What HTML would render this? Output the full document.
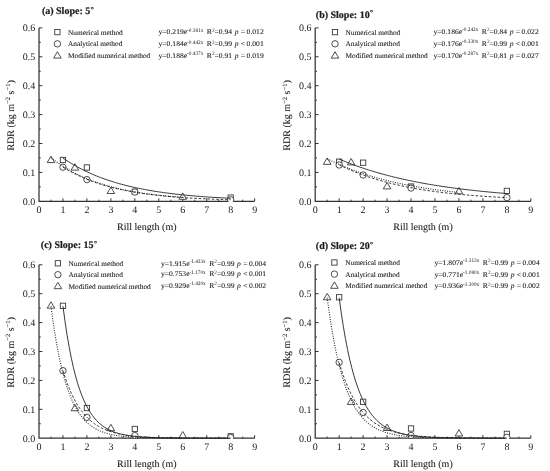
<!DOCTYPE html>
<html><head><meta charset="utf-8"><style>
html,body{margin:0;padding:0;background:#fff;}
svg{display:block;text-rendering:geometricPrecision;}
text{font-family:"Liberation Serif","Times New Roman",serif;fill:#1a1a1a;stroke:#1a1a1a;stroke-width:0.1px;}
.ttl{font-size:10px;font-weight:bold;stroke-width:0.2px;}
.tl{font-size:10px;stroke-width:0;}
.at{font-size:10px;stroke-width:0.08px;}
.sup{font-size:6.5px;}
.lg{font-size:7.2px;stroke-width:0.08px;}
.ss{font-size:5.3px;stroke-width:0;}
.ss2{font-size:5px;stroke-width:0;}
.ax{fill:none;stroke:#333;stroke-width:1.25;}
.tk{fill:none;stroke:#333;stroke-width:1;}
.mf .mk{fill:#fff;}
.mk{fill:none;stroke:#3a3a3a;stroke-width:0.9;}
.ln{fill:none;stroke:#222;stroke-width:0.9;}
.dash{stroke-dasharray:2.6,1.8;}
.dot{stroke-dasharray:1,1.4;stroke-width:1.05;}
</style></head><body>
<svg width="550" height="471" viewBox="0 0 550 471">
<rect width="550" height="471" fill="#fff"/>
<text x="41.9" y="14" class="ttl">(a) Slope: 5<tspan font-size="7.5px" dx="0.4" dy="-2.2">°</tspan></text>
<path d="M39,27.9V201.3H254.64" class="ax"/>
<path d="M50.98,201.3v-1.6M62.96,201.3v-3M74.94,201.3v-1.6M86.92,201.3v-3M98.9,201.3v-1.6M110.88,201.3v-3M122.86,201.3v-1.6M134.84,201.3v-3M146.82,201.3v-1.6M158.8,201.3v-3M170.78,201.3v-1.6M182.76,201.3v-3M194.74,201.3v-1.6M206.72,201.3v-3M218.7,201.3v-1.6M230.68,201.3v-3M242.66,201.3v-1.6M254.64,201.3v-3M39,186.85h1.8M39,172.4h3.4M39,157.95h1.8M39,143.5h3.4M39,129.05h1.8M39,114.6h3.4M39,100.15h1.8M39,85.7h3.4M39,71.25h1.8M39,56.8h3.4M39,42.35h1.8M39,27.9h3.4" class="tk"/>
<text x="39" y="213.3" class="tl" text-anchor="middle">0</text>
<text x="62.96" y="213.3" class="tl" text-anchor="middle">1</text>
<text x="86.92" y="213.3" class="tl" text-anchor="middle">2</text>
<text x="110.88" y="213.3" class="tl" text-anchor="middle">3</text>
<text x="134.84" y="213.3" class="tl" text-anchor="middle">4</text>
<text x="158.8" y="213.3" class="tl" text-anchor="middle">5</text>
<text x="182.76" y="213.3" class="tl" text-anchor="middle">6</text>
<text x="206.72" y="213.3" class="tl" text-anchor="middle">7</text>
<text x="230.68" y="213.3" class="tl" text-anchor="middle">8</text>
<text x="254.64" y="213.3" class="tl" text-anchor="middle">9</text>
<text x="35.2" y="204.7" class="tl" text-anchor="end">0.0</text>
<text x="35.2" y="175.8" class="tl" text-anchor="end">0.1</text>
<text x="35.2" y="146.9" class="tl" text-anchor="end">0.2</text>
<text x="35.2" y="118" class="tl" text-anchor="end">0.3</text>
<text x="35.2" y="89.1" class="tl" text-anchor="end">0.4</text>
<text x="35.2" y="60.2" class="tl" text-anchor="end">0.5</text>
<text x="35.2" y="31.3" class="tl" text-anchor="end">0.6</text>
<text x="146.82" y="229.7" class="at" text-anchor="middle">Rill length (m)</text>
<text transform="translate(14,115.4) rotate(-90)" class="at" text-anchor="middle">RDR (kg m<tspan class="sup" dy="-3.6">−2</tspan><tspan dy="3.6"> s</tspan><tspan class="sup" dy="-3.6">−1</tspan><tspan dy="3.6">)</tspan></text>
<clipPath id="ca"><rect x="39.7" y="0" width="215.64" height="202.1"/></clipPath>
<g clip-path="url(#ca)" class="mf"><rect x="60.31" y="157.32" width="5.3" height="5.3" class="mk"/><rect x="84.27" y="164.84" width="5.3" height="5.3" class="mk"/><rect x="132.19" y="189.11" width="5.3" height="5.3" class="mk"/><rect x="228.03" y="194.95" width="5.3" height="5.3" class="mk"/><circle cx="62.96" cy="167.2" r="3.2" class="mk"/><circle cx="86.92" cy="179.62" r="3.2" class="mk"/><circle cx="134.84" cy="192.05" r="3.2" class="mk"/><circle cx="230.68" cy="199.86" r="3.2" class="mk"/><polygon points="50.98,156.2 54.78,162.59 47.18,162.59" class="mk"/><polygon points="74.94,163.71 78.74,170.11 71.14,170.11" class="mk"/><polygon points="110.88,187.12 114.68,193.52 107.08,193.52" class="mk"/><polygon points="182.76,192.9 186.56,199.3 178.96,199.3" class="mk"/></g>
<polyline points="62.96,158.06 65.06,159.48 67.15,160.85 69.25,162.18 71.35,163.46 73.44,164.7 75.54,165.9 77.64,167.06 79.73,168.18 81.83,169.27 83.93,170.32 86.02,171.33 88.12,172.32 90.21,173.27 92.31,174.19 94.41,175.08 96.5,175.94 98.6,176.77 100.7,177.57 102.79,178.35 104.89,179.1 106.99,179.83 109.08,180.53 111.18,181.21 113.28,181.87 115.37,182.51 117.47,183.13 119.57,183.72 121.66,184.3 123.76,184.86 125.86,185.4 127.95,185.92 130.05,186.42 132.14,186.91 134.24,187.38 136.34,187.84 138.43,188.28 140.53,188.71 142.63,189.12 144.72,189.52 146.82,189.9 148.92,190.28 151.01,190.64 153.11,190.99 155.21,191.33 157.3,191.65 159.4,191.97 161.5,192.28 163.59,192.57 165.69,192.86 167.78,193.13 169.88,193.4 171.98,193.66 174.07,193.91 176.17,194.15 178.27,194.39 180.36,194.62 182.46,194.83 184.56,195.05 186.65,195.25 188.75,195.45 190.85,195.64 192.94,195.83 195.04,196.01 197.14,196.18 199.23,196.35 201.33,196.51 203.43,196.67 205.52,196.82 207.62,196.97 209.72,197.11 211.81,197.25 213.91,197.38 216,197.51 218.1,197.63 220.2,197.75 222.29,197.87 224.39,197.98 226.49,198.09 228.58,198.19 230.68,198.3" class="ln solid"/>
<polyline points="62.96,167.12 65.06,168.42 67.15,169.67 69.25,170.87 71.35,172.02 73.44,173.13 75.54,174.2 77.64,175.23 79.73,176.22 81.83,177.17 83.93,178.08 86.02,178.96 88.12,179.81 90.21,180.63 92.31,181.41 94.41,182.17 96.5,182.89 98.6,183.59 100.7,184.26 102.79,184.91 104.89,185.53 106.99,186.13 109.08,186.7 111.18,187.26 113.28,187.79 115.37,188.3 117.47,188.8 119.57,189.27 121.66,189.73 123.76,190.17 125.86,190.59 127.95,190.99 130.05,191.39 132.14,191.76 134.24,192.12 136.34,192.47 138.43,192.81 140.53,193.13 142.63,193.44 144.72,193.74 146.82,194.02 148.92,194.3 151.01,194.57 153.11,194.82 155.21,195.07 157.3,195.3 159.4,195.53 161.5,195.75 163.59,195.96 165.69,196.16 167.78,196.36 169.88,196.55 171.98,196.73 174.07,196.9 176.17,197.07 178.27,197.23 180.36,197.38 182.46,197.53 184.56,197.67 186.65,197.81 188.75,197.94 190.85,198.07 192.94,198.19 195.04,198.31 197.14,198.42 199.23,198.53 201.33,198.64 203.43,198.74 205.52,198.84 207.62,198.93 209.72,199.02 211.81,199.11 213.91,199.19 216,199.27 218.1,199.35 220.2,199.42 222.29,199.49 224.39,199.56 226.49,199.63 228.58,199.69 230.68,199.75" class="ln dash"/>
<polyline points="50.98,157.63 52.63,158.92 54.27,160.18 55.92,161.4 57.57,162.58 59.22,163.72 60.86,164.84 62.51,165.91 64.16,166.96 65.81,167.98 67.45,168.96 69.1,169.92 70.75,170.85 72.39,171.75 74.04,172.63 75.69,173.47 77.34,174.3 78.98,175.1 80.63,175.87 82.28,176.63 83.93,177.36 85.57,178.06 87.22,178.75 88.87,179.42 90.51,180.07 92.16,180.7 93.81,181.31 95.46,181.9 97.1,182.47 98.75,183.03 100.4,183.57 102.04,184.09 103.69,184.6 105.34,185.1 106.99,185.58 108.63,186.04 110.28,186.49 111.93,186.93 113.58,187.36 115.22,187.77 116.87,188.17 118.52,188.56 120.16,188.94 121.81,189.3 123.46,189.66 125.11,190 126.75,190.34 128.4,190.66 130.05,190.98 131.7,191.28 133.34,191.58 134.99,191.87 136.64,192.14 138.28,192.42 139.93,192.68 141.58,192.93 143.23,193.18 144.87,193.42 146.52,193.65 148.17,193.88 149.81,194.1 151.46,194.31 153.11,194.52 154.76,194.72 156.4,194.92 158.05,195.1 159.7,195.29 161.35,195.47 162.99,195.64 164.64,195.81 166.29,195.97 167.93,196.13 169.58,196.28 171.23,196.43 172.88,196.57 174.52,196.71 176.17,196.85 177.82,196.98 179.47,197.11 181.11,197.23 182.76,197.35" class="ln dot"/>
<rect x="54.75" y="29.45" width="5.3" height="5.3" class="mk"/>
<text transform="translate(68,34.6) scale(1.02,1)" class="lg">Numerical method</text>
<text transform="translate(158.5,34.1) scale(1.06,1)" class="lg">y=0.219e</text>
<text transform="translate(187,31.5) scale(1.0,1)" class="ss">-0.381x</text>
<text transform="translate(206.8,34.1) scale(1.06,1)" class="lg">R<tspan class="ss2" dy="-2.6">2</tspan><tspan dy="2.6">=0.94</tspan></text>
<text transform="translate(234.7,34.1) scale(1.06,1)" class="lg" font-style="italic">p</text>
<text transform="translate(240.8,34.1) scale(1.06,1)" class="lg">=</text>
<text transform="translate(246.6,34.1) scale(1.06,1)" class="lg">0.012</text>
<circle cx="57.4" cy="43.8" r="3.2" class="mk"/>
<text transform="translate(68,46.3) scale(1.02,1)" class="lg">Analytical method</text>
<text transform="translate(158.5,46.3) scale(1.06,1)" class="lg">y=0.184e</text>
<text transform="translate(187,43.7) scale(1.0,1)" class="ss">-0.442x</text>
<text transform="translate(206.8,46.3) scale(1.06,1)" class="lg">R<tspan class="ss2" dy="-2.6">2</tspan><tspan dy="2.6">=0.99</tspan></text>
<text transform="translate(234.7,46.3) scale(1.06,1)" class="lg" font-style="italic">p</text>
<text transform="translate(240.8,46.3) scale(1.06,1)" class="lg"><</text>
<text transform="translate(246.6,46.3) scale(1.06,1)" class="lg">0.001</text>
<polygon points="57.4,51.7 61.2,58.1 53.6,58.1" class="mk"/>
<text transform="translate(68,58) scale(1.02,1)" class="lg">Modified numerical method</text>
<text transform="translate(158.5,57.6) scale(1.06,1)" class="lg">y=0.188e</text>
<text transform="translate(187,55) scale(1.0,1)" class="ss">-0.437x</text>
<text transform="translate(206.8,57.6) scale(1.06,1)" class="lg">R<tspan class="ss2" dy="-2.6">2</tspan><tspan dy="2.6">=0.91</tspan></text>
<text transform="translate(234.7,57.6) scale(1.06,1)" class="lg" font-style="italic">p</text>
<text transform="translate(240.8,57.6) scale(1.06,1)" class="lg">=</text>
<text transform="translate(246.6,57.6) scale(1.06,1)" class="lg">0.019</text>
<text x="315.8" y="17.5" class="ttl">(b) Slope: 10<tspan font-size="7.5px" dx="0.4" dy="-2.2">°</tspan></text>
<path d="M315.2,27.9V201.3H530.84" class="ax"/>
<path d="M327.18,201.3v-1.6M339.16,201.3v-3M351.14,201.3v-1.6M363.12,201.3v-3M375.1,201.3v-1.6M387.08,201.3v-3M399.06,201.3v-1.6M411.04,201.3v-3M423.02,201.3v-1.6M435,201.3v-3M446.98,201.3v-1.6M458.96,201.3v-3M470.94,201.3v-1.6M482.92,201.3v-3M494.9,201.3v-1.6M506.88,201.3v-3M518.86,201.3v-1.6M530.84,201.3v-3M315.2,186.85h1.8M315.2,172.4h3.4M315.2,157.95h1.8M315.2,143.5h3.4M315.2,129.05h1.8M315.2,114.6h3.4M315.2,100.15h1.8M315.2,85.7h3.4M315.2,71.25h1.8M315.2,56.8h3.4M315.2,42.35h1.8M315.2,27.9h3.4" class="tk"/>
<text x="315.2" y="213.3" class="tl" text-anchor="middle">0</text>
<text x="339.16" y="213.3" class="tl" text-anchor="middle">1</text>
<text x="363.12" y="213.3" class="tl" text-anchor="middle">2</text>
<text x="387.08" y="213.3" class="tl" text-anchor="middle">3</text>
<text x="411.04" y="213.3" class="tl" text-anchor="middle">4</text>
<text x="435" y="213.3" class="tl" text-anchor="middle">5</text>
<text x="458.96" y="213.3" class="tl" text-anchor="middle">6</text>
<text x="482.92" y="213.3" class="tl" text-anchor="middle">7</text>
<text x="506.88" y="213.3" class="tl" text-anchor="middle">8</text>
<text x="530.84" y="213.3" class="tl" text-anchor="middle">9</text>
<text x="311.4" y="204.7" class="tl" text-anchor="end">0.0</text>
<text x="311.4" y="175.8" class="tl" text-anchor="end">0.1</text>
<text x="311.4" y="146.9" class="tl" text-anchor="end">0.2</text>
<text x="311.4" y="118" class="tl" text-anchor="end">0.3</text>
<text x="311.4" y="89.1" class="tl" text-anchor="end">0.4</text>
<text x="311.4" y="60.2" class="tl" text-anchor="end">0.5</text>
<text x="311.4" y="31.3" class="tl" text-anchor="end">0.6</text>
<text x="423.02" y="229.7" class="at" text-anchor="middle">Rill length (m)</text>
<text transform="translate(290.2,115.4) rotate(-90)" class="at" text-anchor="middle">RDR (kg m<tspan class="sup" dy="-3.6">−2</tspan><tspan dy="3.6"> s</tspan><tspan class="sup" dy="-3.6">−1</tspan><tspan dy="3.6">)</tspan></text>
<clipPath id="cb"><rect x="315.9" y="0" width="215.64" height="202.1"/></clipPath>
<g clip-path="url(#cb)" class="mf"><rect x="336.51" y="159.06" width="5.3" height="5.3" class="mk"/><rect x="360.47" y="160.04" width="5.3" height="5.3" class="mk"/><rect x="408.39" y="183.91" width="5.3" height="5.3" class="mk"/><rect x="504.23" y="188.25" width="5.3" height="5.3" class="mk"/><circle cx="339.16" cy="165" r="3.2" class="mk"/><circle cx="363.12" cy="175" r="3.2" class="mk"/><circle cx="411.04" cy="188.01" r="3.2" class="mk"/><circle cx="506.88" cy="197.6" r="3.2" class="mk"/><polygon points="327.18,157.93 330.98,164.33 323.38,164.33" class="mk"/><polygon points="351.14,158.51 354.94,164.91 347.34,164.91" class="mk"/><polygon points="387.08,182.49 390.88,188.89 383.28,188.89" class="mk"/><polygon points="458.96,187.41 462.76,193.81 455.16,193.81" class="mk"/></g>
<polyline points="339.16,159.1 341.26,159.98 343.35,160.85 345.45,161.7 347.55,162.53 349.64,163.34 351.74,164.13 353.84,164.91 355.93,165.68 358.03,166.42 360.12,167.15 362.22,167.87 364.32,168.57 366.41,169.25 368.51,169.93 370.61,170.58 372.7,171.23 374.8,171.86 376.9,172.47 378.99,173.08 381.09,173.67 383.19,174.25 385.28,174.82 387.38,175.37 389.48,175.91 391.57,176.45 393.67,176.97 395.77,177.48 397.86,177.98 399.96,178.46 402.06,178.94 404.15,179.41 406.25,179.87 408.34,180.32 410.44,180.76 412.54,181.19 414.63,181.61 416.73,182.02 418.83,182.43 420.92,182.82 423.02,183.21 425.12,183.59 427.21,183.96 429.31,184.32 431.41,184.68 433.5,185.03 435.6,185.37 437.7,185.7 439.79,186.03 441.89,186.35 443.99,186.66 446.08,186.97 448.18,187.27 450.27,187.56 452.37,187.85 454.47,188.13 456.56,188.41 458.66,188.68 460.76,188.94 462.85,189.2 464.95,189.45 467.05,189.7 469.14,189.95 471.24,190.18 473.34,190.42 475.43,190.64 477.53,190.87 479.63,191.09 481.72,191.3 483.82,191.51 485.91,191.72 488.01,191.92 490.11,192.11 492.2,192.31 494.3,192.49 496.4,192.68 498.49,192.86 500.59,193.04 502.69,193.21 504.78,193.38 506.88,193.54" class="ln solid"/>
<polyline points="339.16,164.73 341.26,165.77 343.35,166.78 345.45,167.77 347.55,168.72 349.64,169.65 351.74,170.55 353.84,171.42 355.93,172.28 358.03,173.1 360.12,173.9 362.22,174.68 364.32,175.44 366.41,176.18 368.51,176.89 370.61,177.59 372.7,178.26 374.8,178.92 376.9,179.55 378.99,180.17 381.09,180.77 383.19,181.36 385.28,181.93 387.38,182.48 389.48,183.01 391.57,183.53 393.67,184.04 395.77,184.53 397.86,185.01 399.96,185.47 402.06,185.92 404.15,186.36 406.25,186.79 408.34,187.2 410.44,187.6 412.54,187.99 414.63,188.37 416.73,188.74 418.83,189.09 420.92,189.44 423.02,189.78 425.12,190.11 427.21,190.43 429.31,190.74 431.41,191.04 433.5,191.33 435.6,191.61 437.7,191.89 439.79,192.16 441.89,192.42 443.99,192.67 446.08,192.91 448.18,193.15 450.27,193.38 452.37,193.61 454.47,193.83 456.56,194.04 458.66,194.25 460.76,194.45 462.85,194.64 464.95,194.83 467.05,195.02 469.14,195.2 471.24,195.37 473.34,195.54 475.43,195.7 477.53,195.86 479.63,196.02 481.72,196.17 483.82,196.31 485.91,196.46 488.01,196.59 490.11,196.73 492.2,196.86 494.3,196.98 496.4,197.11 498.49,197.23 500.59,197.34 502.69,197.45 504.78,197.56 506.88,197.67" class="ln dash"/>
<polyline points="327.18,158.74 328.83,159.57 330.47,160.38 332.12,161.18 333.77,161.97 335.42,162.74 337.06,163.49 338.71,164.23 340.36,164.95 342.01,165.66 343.65,166.36 345.3,167.04 346.95,167.71 348.59,168.37 350.24,169.01 351.89,169.64 353.54,170.26 355.18,170.87 356.83,171.46 358.48,172.04 360.12,172.62 361.77,173.18 363.42,173.73 365.07,174.26 366.71,174.79 368.36,175.31 370.01,175.82 371.66,176.32 373.3,176.8 374.95,177.28 376.6,177.75 378.24,178.21 379.89,178.66 381.54,179.11 383.19,179.54 384.83,179.96 386.48,180.38 388.13,180.79 389.78,181.19 391.42,181.58 393.07,181.97 394.72,182.35 396.36,182.72 398.01,183.08 399.66,183.44 401.31,183.78 402.95,184.13 404.6,184.46 406.25,184.79 407.9,185.11 409.54,185.43 411.19,185.74 412.84,186.04 414.48,186.34 416.13,186.63 417.78,186.92 419.43,187.2 421.07,187.48 422.72,187.75 424.37,188.01 426.01,188.27 427.66,188.53 429.31,188.78 430.96,189.02 432.6,189.26 434.25,189.5 435.9,189.73 437.55,189.95 439.19,190.17 440.84,190.39 442.49,190.6 444.13,190.81 445.78,191.02 447.43,191.22 449.08,191.42 450.72,191.61 452.37,191.8 454.02,191.98 455.67,192.17 457.31,192.35 458.96,192.52" class="ln dot"/>
<rect x="332.35" y="29.45" width="5.3" height="5.3" class="mk"/>
<text transform="translate(345.5,34.6) scale(1.02,1)" class="lg">Numerical method</text>
<text transform="translate(433.5,34) scale(1.06,1)" class="lg">y=0.186e</text>
<text transform="translate(462,31.4) scale(1.0,1)" class="ss">-0.242x</text>
<text transform="translate(481.8,34) scale(1.06,1)" class="lg">R<tspan class="ss2" dy="-2.6">2</tspan><tspan dy="2.6">=0.84</tspan></text>
<text transform="translate(509.7,34) scale(1.06,1)" class="lg" font-style="italic">p</text>
<text transform="translate(515.8,34) scale(1.06,1)" class="lg">=</text>
<text transform="translate(521.6,34) scale(1.06,1)" class="lg">0.022</text>
<circle cx="335" cy="43.8" r="3.2" class="mk"/>
<text transform="translate(345.5,46.3) scale(1.02,1)" class="lg">Analytical method</text>
<text transform="translate(433.5,46) scale(1.06,1)" class="lg">y=0.176e</text>
<text transform="translate(462,43.4) scale(1.0,1)" class="ss">-0.330x</text>
<text transform="translate(481.8,46) scale(1.06,1)" class="lg">R<tspan class="ss2" dy="-2.6">2</tspan><tspan dy="2.6">=0.99</tspan></text>
<text transform="translate(509.7,46) scale(1.06,1)" class="lg" font-style="italic">p</text>
<text transform="translate(515.8,46) scale(1.06,1)" class="lg"><</text>
<text transform="translate(521.6,46) scale(1.06,1)" class="lg">0.001</text>
<polygon points="335,51.7 338.8,58.1 331.2,58.1" class="mk"/>
<text transform="translate(345.5,58) scale(1.02,1)" class="lg">Modified numerical method</text>
<text transform="translate(433.5,58) scale(1.06,1)" class="lg">y=0.170e</text>
<text transform="translate(462,55.4) scale(1.0,1)" class="ss">-0.287x</text>
<text transform="translate(481.8,58) scale(1.06,1)" class="lg">R<tspan class="ss2" dy="-2.6">2</tspan><tspan dy="2.6">=0.81</tspan></text>
<text transform="translate(509.7,58) scale(1.06,1)" class="lg" font-style="italic">p</text>
<text transform="translate(515.8,58) scale(1.06,1)" class="lg">=</text>
<text transform="translate(521.6,58) scale(1.06,1)" class="lg">0.027</text>
<text x="40.8" y="248.1" class="ttl">(c) Slope: 15<tspan font-size="7.5px" dx="0.4" dy="-2.2">°</tspan></text>
<path d="M39,264.8V438.2H254.64" class="ax"/>
<path d="M50.98,438.2v-1.6M62.96,438.2v-3M74.94,438.2v-1.6M86.92,438.2v-3M98.9,438.2v-1.6M110.88,438.2v-3M122.86,438.2v-1.6M134.84,438.2v-3M146.82,438.2v-1.6M158.8,438.2v-3M170.78,438.2v-1.6M182.76,438.2v-3M194.74,438.2v-1.6M206.72,438.2v-3M218.7,438.2v-1.6M230.68,438.2v-3M242.66,438.2v-1.6M254.64,438.2v-3M39,423.75h1.8M39,409.3h3.4M39,394.85h1.8M39,380.4h3.4M39,365.95h1.8M39,351.5h3.4M39,337.05h1.8M39,322.6h3.4M39,308.15h1.8M39,293.7h3.4M39,279.25h1.8M39,264.8h3.4" class="tk"/>
<text x="39" y="450.2" class="tl" text-anchor="middle">0</text>
<text x="62.96" y="450.2" class="tl" text-anchor="middle">1</text>
<text x="86.92" y="450.2" class="tl" text-anchor="middle">2</text>
<text x="110.88" y="450.2" class="tl" text-anchor="middle">3</text>
<text x="134.84" y="450.2" class="tl" text-anchor="middle">4</text>
<text x="158.8" y="450.2" class="tl" text-anchor="middle">5</text>
<text x="182.76" y="450.2" class="tl" text-anchor="middle">6</text>
<text x="206.72" y="450.2" class="tl" text-anchor="middle">7</text>
<text x="230.68" y="450.2" class="tl" text-anchor="middle">8</text>
<text x="254.64" y="450.2" class="tl" text-anchor="middle">9</text>
<text x="35.2" y="441.6" class="tl" text-anchor="end">0.0</text>
<text x="35.2" y="412.7" class="tl" text-anchor="end">0.1</text>
<text x="35.2" y="383.8" class="tl" text-anchor="end">0.2</text>
<text x="35.2" y="354.9" class="tl" text-anchor="end">0.3</text>
<text x="35.2" y="326" class="tl" text-anchor="end">0.4</text>
<text x="35.2" y="297.1" class="tl" text-anchor="end">0.5</text>
<text x="35.2" y="268.2" class="tl" text-anchor="end">0.6</text>
<text x="146.82" y="466.6" class="at" text-anchor="middle">Rill length (m)</text>
<text transform="translate(14,352.3) rotate(-90)" class="at" text-anchor="middle">RDR (kg m<tspan class="sup" dy="-3.6">−2</tspan><tspan dy="3.6"> s</tspan><tspan class="sup" dy="-3.6">−1</tspan><tspan dy="3.6">)</tspan></text>
<clipPath id="cc"><rect x="39.7" y="0" width="215.64" height="439"/></clipPath>
<g clip-path="url(#cc)" class="mf"><rect x="60.31" y="303.19" width="5.3" height="5.3" class="mk"/><rect x="84.27" y="405.35" width="5.3" height="5.3" class="mk"/><rect x="132.19" y="426.3" width="5.3" height="5.3" class="mk"/><rect x="228.03" y="433.64" width="5.3" height="5.3" class="mk"/><circle cx="62.96" cy="370.69" r="3.2" class="mk"/><circle cx="86.92" cy="417.39" r="3.2" class="mk"/><circle cx="134.84" cy="435.6" r="3.2" class="mk"/><circle cx="230.68" cy="437.62" r="3.2" class="mk"/><polygon points="50.98,301.77 54.78,308.17 47.18,308.17" class="mk"/><polygon points="74.94,404.37 78.74,410.77 71.14,410.77" class="mk"/><polygon points="110.88,424.31 114.68,430.71 107.08,430.71" class="mk"/><polygon points="182.76,431.53 186.56,437.93 178.96,437.93" class="mk"/></g>
<polyline points="62.96,306.15 65.06,321.72 67.15,335.44 69.25,347.55 71.35,358.23 73.44,367.66 75.54,375.97 77.64,383.3 79.73,389.77 81.83,395.48 83.93,400.51 86.02,404.96 88.12,408.87 90.21,412.33 92.31,415.38 94.41,418.07 96.5,420.44 98.6,422.53 100.7,424.38 102.79,426.01 104.89,427.44 106.99,428.71 109.08,429.83 111.18,430.82 113.28,431.69 115.37,432.45 117.47,433.13 119.57,433.73 121.66,434.26 123.76,434.72 125.86,435.13 127.95,435.49 130.05,435.81 132.14,436.09 134.24,436.34 136.34,436.56 138.43,436.75 140.53,436.92 142.63,437.07 144.72,437.21 146.82,437.32 148.92,437.43 151.01,437.52 153.11,437.6 155.21,437.67 157.3,437.73 159.4,437.79 161.5,437.84 163.59,437.88 165.69,437.92 167.78,437.95 169.88,437.98 171.98,438.01 174.07,438.03 176.17,438.05 178.27,438.07 180.36,438.08 182.46,438.1 184.56,438.11 186.65,438.12 188.75,438.13 190.85,438.14 192.94,438.14 195.04,438.15 197.14,438.16 199.23,438.16 201.33,438.17 203.43,438.17 205.52,438.17 207.62,438.18 209.72,438.18 211.81,438.18 213.91,438.18 216,438.19 218.1,438.19 220.2,438.19 222.29,438.19 224.39,438.19 226.49,438.19 228.58,438.19 230.68,438.19" class="ln solid"/>
<polyline points="62.96,370.66 65.06,377.23 67.15,383.16 69.25,388.52 71.35,393.35 73.44,397.72 75.54,401.66 77.64,405.21 79.73,408.42 81.83,411.32 83.93,413.94 86.02,416.3 88.12,418.43 90.21,420.35 92.31,422.09 94.41,423.66 96.5,425.07 98.6,426.35 100.7,427.5 102.79,428.54 104.89,429.48 106.99,430.33 109.08,431.1 111.18,431.79 113.28,432.41 115.37,432.98 117.47,433.48 119.57,433.94 121.66,434.36 123.76,434.73 125.86,435.07 127.95,435.37 130.05,435.65 132.14,435.9 134.24,436.12 136.34,436.32 138.43,436.51 140.53,436.67 142.63,436.82 144.72,436.95 146.82,437.08 148.92,437.18 151.01,437.28 153.11,437.37 155.21,437.45 157.3,437.53 159.4,437.59 161.5,437.65 163.59,437.7 165.69,437.75 167.78,437.8 169.88,437.84 171.98,437.87 174.07,437.9 176.17,437.93 178.27,437.96 180.36,437.98 182.46,438 184.56,438.02 186.65,438.04 188.75,438.05 190.85,438.07 192.94,438.08 195.04,438.09 197.14,438.1 199.23,438.11 201.33,438.12 203.43,438.13 205.52,438.14 207.62,438.14 209.72,438.15 211.81,438.15 213.91,438.16 216,438.16 218.1,438.17 220.2,438.17 222.29,438.17 224.39,438.17 226.49,438.18 228.58,438.18 230.68,438.18" class="ln dash"/>
<polyline points="50.98,306.2 52.63,318.48 54.27,329.62 55.92,339.71 57.57,348.88 59.22,357.18 60.86,364.72 62.51,371.55 64.16,377.75 65.81,383.37 67.45,388.47 69.1,393.1 70.75,397.29 72.39,401.1 74.04,404.55 75.69,407.68 77.34,410.52 78.98,413.09 80.63,415.43 82.28,417.55 83.93,419.47 85.57,421.21 87.22,422.79 88.87,424.22 90.51,425.52 92.16,426.7 93.81,427.77 95.46,428.74 97.1,429.62 98.75,430.42 100.4,431.14 102.04,431.8 103.69,432.39 105.34,432.93 106.99,433.42 108.63,433.87 110.28,434.27 111.93,434.64 113.58,434.97 115.22,435.27 116.87,435.54 118.52,435.79 120.16,436.01 121.81,436.22 123.46,436.4 125.11,436.57 126.75,436.72 128.4,436.86 130.05,436.98 131.7,437.1 133.34,437.2 134.99,437.29 136.64,437.38 138.28,437.45 139.93,437.52 141.58,437.59 143.23,437.64 144.87,437.69 146.52,437.74 148.17,437.78 149.81,437.82 151.46,437.86 153.11,437.89 154.76,437.92 156.4,437.94 158.05,437.97 159.7,437.99 161.35,438.01 162.99,438.03 164.64,438.04 166.29,438.06 167.93,438.07 169.58,438.08 171.23,438.09 172.88,438.1 174.52,438.11 176.17,438.12 177.82,438.13 179.47,438.13 181.11,438.14 182.76,438.15" class="ln dot"/>
<rect x="55.25" y="260.65" width="5.3" height="5.3" class="mk"/>
<text transform="translate(68.5,265.8) scale(1.02,1)" class="lg">Numerical method</text>
<text transform="translate(160.9,265.8) scale(1.06,1)" class="lg">y=1.915e</text>
<text transform="translate(189.4,263.2) scale(1.0,1)" class="ss">-1.433x</text>
<text transform="translate(209.2,265.8) scale(1.06,1)" class="lg">R<tspan class="ss2" dy="-2.6">2</tspan><tspan dy="2.6">=0.99</tspan></text>
<text transform="translate(237.1,265.8) scale(1.06,1)" class="lg" font-style="italic">p</text>
<text transform="translate(243.2,265.8) scale(1.06,1)" class="lg">=</text>
<text transform="translate(249,265.8) scale(1.06,1)" class="lg">0.004</text>
<circle cx="57.9" cy="274.7" r="3.2" class="mk"/>
<text transform="translate(68.5,277.2) scale(1.02,1)" class="lg">Analytical method</text>
<text transform="translate(160.9,276.3) scale(1.06,1)" class="lg">y=0.753e</text>
<text transform="translate(189.4,273.7) scale(1.0,1)" class="ss">-1.170x</text>
<text transform="translate(209.2,276.3) scale(1.06,1)" class="lg">R<tspan class="ss2" dy="-2.6">2</tspan><tspan dy="2.6">=0.99</tspan></text>
<text transform="translate(237.1,276.3) scale(1.06,1)" class="lg" font-style="italic">p</text>
<text transform="translate(243.2,276.3) scale(1.06,1)" class="lg"><</text>
<text transform="translate(249,276.3) scale(1.06,1)" class="lg">0.001</text>
<polygon points="57.9,282.3 61.7,288.7 54.1,288.7" class="mk"/>
<text transform="translate(68.5,288.6) scale(1.02,1)" class="lg">Modified numerical method</text>
<text transform="translate(160.9,287.8) scale(1.06,1)" class="lg">y=0.929e</text>
<text transform="translate(189.4,285.2) scale(1.0,1)" class="ss">-1.420x</text>
<text transform="translate(209.2,287.8) scale(1.06,1)" class="lg">R<tspan class="ss2" dy="-2.6">2</tspan><tspan dy="2.6">=0.99</tspan></text>
<text transform="translate(237.1,287.8) scale(1.06,1)" class="lg" font-style="italic">p</text>
<text transform="translate(243.2,287.8) scale(1.06,1)" class="lg"><</text>
<text transform="translate(249,287.8) scale(1.06,1)" class="lg">0.002</text>
<text x="315.8" y="248.8" class="ttl">(d) Slope: 20<tspan font-size="7.5px" dx="0.4" dy="-2.2">°</tspan></text>
<path d="M315.2,264.8V438.2H530.84" class="ax"/>
<path d="M327.18,438.2v-1.6M339.16,438.2v-3M351.14,438.2v-1.6M363.12,438.2v-3M375.1,438.2v-1.6M387.08,438.2v-3M399.06,438.2v-1.6M411.04,438.2v-3M423.02,438.2v-1.6M435,438.2v-3M446.98,438.2v-1.6M458.96,438.2v-3M470.94,438.2v-1.6M482.92,438.2v-3M494.9,438.2v-1.6M506.88,438.2v-3M518.86,438.2v-1.6M530.84,438.2v-3M315.2,423.75h1.8M315.2,409.3h3.4M315.2,394.85h1.8M315.2,380.4h3.4M315.2,365.95h1.8M315.2,351.5h3.4M315.2,337.05h1.8M315.2,322.6h3.4M315.2,308.15h1.8M315.2,293.7h3.4M315.2,279.25h1.8M315.2,264.8h3.4" class="tk"/>
<text x="315.2" y="450.2" class="tl" text-anchor="middle">0</text>
<text x="339.16" y="450.2" class="tl" text-anchor="middle">1</text>
<text x="363.12" y="450.2" class="tl" text-anchor="middle">2</text>
<text x="387.08" y="450.2" class="tl" text-anchor="middle">3</text>
<text x="411.04" y="450.2" class="tl" text-anchor="middle">4</text>
<text x="435" y="450.2" class="tl" text-anchor="middle">5</text>
<text x="458.96" y="450.2" class="tl" text-anchor="middle">6</text>
<text x="482.92" y="450.2" class="tl" text-anchor="middle">7</text>
<text x="506.88" y="450.2" class="tl" text-anchor="middle">8</text>
<text x="530.84" y="450.2" class="tl" text-anchor="middle">9</text>
<text x="311.4" y="441.6" class="tl" text-anchor="end">0.0</text>
<text x="311.4" y="412.7" class="tl" text-anchor="end">0.1</text>
<text x="311.4" y="383.8" class="tl" text-anchor="end">0.2</text>
<text x="311.4" y="354.9" class="tl" text-anchor="end">0.3</text>
<text x="311.4" y="326" class="tl" text-anchor="end">0.4</text>
<text x="311.4" y="297.1" class="tl" text-anchor="end">0.5</text>
<text x="311.4" y="268.2" class="tl" text-anchor="end">0.6</text>
<text x="423.02" y="466.6" class="at" text-anchor="middle">Rill length (m)</text>
<text transform="translate(290.2,352.3) rotate(-90)" class="at" text-anchor="middle">RDR (kg m<tspan class="sup" dy="-3.6">−2</tspan><tspan dy="3.6"> s</tspan><tspan class="sup" dy="-3.6">−1</tspan><tspan dy="3.6">)</tspan></text>
<clipPath id="cd"><rect x="315.9" y="0" width="215.64" height="439"/></clipPath>
<g clip-path="url(#cd)" class="mf"><rect x="336.51" y="294.63" width="5.3" height="5.3" class="mk"/><rect x="360.47" y="399.14" width="5.3" height="5.3" class="mk"/><rect x="408.39" y="425.84" width="5.3" height="5.3" class="mk"/><rect x="504.23" y="431.22" width="5.3" height="5.3" class="mk"/><circle cx="339.16" cy="362.31" r="3.2" class="mk"/><circle cx="363.12" cy="412.48" r="3.2" class="mk"/><circle cx="411.04" cy="435.45" r="3.2" class="mk"/><circle cx="506.88" cy="437.33" r="3.2" class="mk"/><polygon points="327.18,293.39 330.98,299.79 323.38,299.79" class="mk"/><polygon points="351.14,398.01 354.94,404.41 347.34,404.41" class="mk"/><polygon points="387.08,424.1 390.88,430.5 383.28,430.5" class="mk"/><polygon points="458.96,429.6 462.76,436 455.16,436" class="mk"/></g>
<polyline points="339.16,297.72 341.26,312.96 343.35,326.56 345.45,338.67 347.55,349.47 349.64,359.1 351.74,367.69 353.84,375.34 355.93,382.16 358.03,388.25 360.12,393.67 362.22,398.5 364.32,402.81 366.41,406.65 368.51,410.07 370.61,413.13 372.7,415.85 374.8,418.27 376.9,420.44 378.99,422.36 381.09,424.08 383.19,425.62 385.28,426.98 387.38,428.2 389.48,429.28 391.57,430.25 393.67,431.11 395.77,431.88 397.86,432.57 399.96,433.18 402.06,433.73 404.15,434.21 406.25,434.64 408.34,435.03 410.44,435.37 412.54,435.68 414.63,435.95 416.73,436.2 418.83,436.42 420.92,436.61 423.02,436.78 425.12,436.94 427.21,437.07 429.31,437.2 431.41,437.3 433.5,437.4 435.6,437.49 437.7,437.57 439.79,437.63 441.89,437.7 443.99,437.75 446.08,437.8 448.18,437.84 450.27,437.88 452.37,437.92 454.47,437.95 456.56,437.97 458.66,438 460.76,438.02 462.85,438.04 464.95,438.06 467.05,438.07 469.14,438.09 471.24,438.1 473.34,438.11 475.43,438.12 477.53,438.13 479.63,438.14 481.72,438.14 483.82,438.15 485.91,438.15 488.01,438.16 490.11,438.16 492.2,438.17 494.3,438.17 496.4,438.17 498.49,438.18 500.59,438.18 502.69,438.18 504.78,438.18 506.88,438.19" class="ln solid"/>
<polyline points="339.16,362.53 341.26,369.35 343.35,375.56 345.45,381.21 347.55,386.35 349.64,391.03 351.74,395.28 353.84,399.15 355.93,402.67 358.03,405.87 360.12,408.79 362.22,411.44 364.32,413.85 366.41,416.05 368.51,418.05 370.61,419.86 372.7,421.52 374.8,423.02 376.9,424.39 378.99,425.64 381.09,426.77 383.19,427.8 385.28,428.74 387.38,429.59 389.48,430.37 391.57,431.07 393.67,431.72 395.77,432.3 397.86,432.83 399.96,433.32 402.06,433.76 404.15,434.16 406.25,434.52 408.34,434.85 410.44,435.16 412.54,435.43 414.63,435.68 416.73,435.91 418.83,436.11 420.92,436.3 423.02,436.47 425.12,436.63 427.21,436.77 429.31,436.9 431.41,437.02 433.5,437.12 435.6,437.22 437.7,437.31 439.79,437.39 441.89,437.46 443.99,437.53 446.08,437.59 448.18,437.64 450.27,437.69 452.37,437.74 454.47,437.78 456.56,437.82 458.66,437.85 460.76,437.88 462.85,437.91 464.95,437.94 467.05,437.96 469.14,437.98 471.24,438 473.34,438.02 475.43,438.04 477.53,438.05 479.63,438.07 481.72,438.08 483.82,438.09 485.91,438.1 488.01,438.11 490.11,438.12 492.2,438.12 494.3,438.13 496.4,438.14 498.49,438.14 500.59,438.15 502.69,438.15 504.78,438.16 506.88,438.16" class="ln dash"/>
<polyline points="327.18,297.62 328.83,309.72 330.47,320.78 332.12,330.88 333.77,340.12 335.42,348.56 337.06,356.27 338.71,363.32 340.36,369.77 342.01,375.66 343.65,381.04 345.3,385.96 346.95,390.46 348.59,394.56 350.24,398.32 351.89,401.75 353.54,404.89 355.18,407.76 356.83,410.38 358.48,412.77 360.12,414.96 361.77,416.96 363.42,418.79 365.07,420.46 366.71,421.98 368.36,423.38 370.01,424.66 371.66,425.82 373.3,426.89 374.95,427.86 376.6,428.75 378.24,429.56 379.89,430.31 381.54,430.99 383.19,431.61 384.83,432.17 386.48,432.69 388.13,433.17 389.78,433.6 391.42,434 393.07,434.36 394.72,434.69 396.36,434.99 398.01,435.27 399.66,435.52 401.31,435.75 402.95,435.96 404.6,436.15 406.25,436.33 407.9,436.49 409.54,436.64 411.19,436.77 412.84,436.9 414.48,437.01 416.13,437.11 417.78,437.2 419.43,437.29 421.07,437.37 422.72,437.44 424.37,437.51 426.01,437.56 427.66,437.62 429.31,437.67 430.96,437.72 432.6,437.76 434.25,437.79 435.9,437.83 437.55,437.86 439.19,437.89 440.84,437.92 442.49,437.94 444.13,437.96 445.78,437.98 447.43,438 449.08,438.02 450.72,438.04 452.37,438.05 454.02,438.06 455.67,438.07 457.31,438.09 458.96,438.09" class="ln dot"/>
<rect x="331.75" y="259.85" width="5.3" height="5.3" class="mk"/>
<text transform="translate(345.2,265) scale(1.02,1)" class="lg">Numerical method</text>
<text transform="translate(434.5,265) scale(1.06,1)" class="lg">y=1.807e</text>
<text transform="translate(463,262.4) scale(1.0,1)" class="ss">-1.313x</text>
<text transform="translate(482.8,265) scale(1.06,1)" class="lg">R<tspan class="ss2" dy="-2.6">2</tspan><tspan dy="2.6">=0.99</tspan></text>
<text transform="translate(510.7,265) scale(1.06,1)" class="lg" font-style="italic">p</text>
<text transform="translate(516.8,265) scale(1.06,1)" class="lg">=</text>
<text transform="translate(522.6,265) scale(1.06,1)" class="lg">0.004</text>
<circle cx="334.4" cy="274.1" r="3.2" class="mk"/>
<text transform="translate(345.2,276.6) scale(1.02,1)" class="lg">Analytical method</text>
<text transform="translate(434.5,276.6) scale(1.06,1)" class="lg">y=0.771e</text>
<text transform="translate(463,274) scale(1.0,1)" class="ss">-1.080x</text>
<text transform="translate(482.8,276.6) scale(1.06,1)" class="lg">R<tspan class="ss2" dy="-2.6">2</tspan><tspan dy="2.6">=0.99</tspan></text>
<text transform="translate(510.7,276.6) scale(1.06,1)" class="lg" font-style="italic">p</text>
<text transform="translate(516.8,276.6) scale(1.06,1)" class="lg"><</text>
<text transform="translate(522.6,276.6) scale(1.06,1)" class="lg">0.001</text>
<polygon points="334.4,281.9 338.2,288.3 330.6,288.3" class="mk"/>
<text transform="translate(345.2,288.2) scale(1.02,1)" class="lg">Modified numerical method</text>
<text transform="translate(434.5,288.2) scale(1.06,1)" class="lg">y=0.936e</text>
<text transform="translate(463,285.6) scale(1.0,1)" class="ss">-1.309x</text>
<text transform="translate(482.8,288.2) scale(1.06,1)" class="lg">R<tspan class="ss2" dy="-2.6">2</tspan><tspan dy="2.6">=0.99</tspan></text>
<text transform="translate(510.7,288.2) scale(1.06,1)" class="lg" font-style="italic">p</text>
<text transform="translate(516.8,288.2) scale(1.06,1)" class="lg">=</text>
<text transform="translate(522.6,288.2) scale(1.06,1)" class="lg">0.002</text>
</svg>
</body></html>
